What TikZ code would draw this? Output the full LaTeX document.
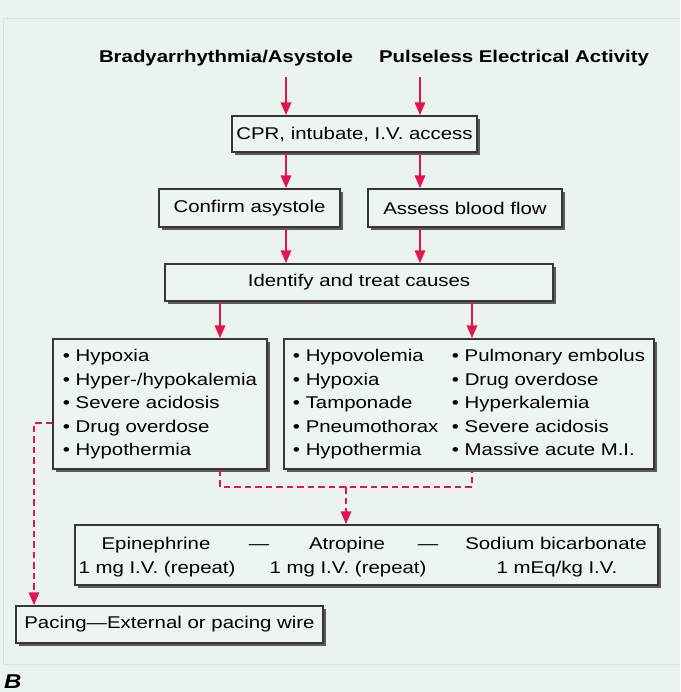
\documentclass[tikz,border=0pt]{standalone}
\usepackage{fontspec}
\setmainfont{Liberation Sans}[FakeStretch=1.2]
\usetikzlibrary{arrows.meta,shadows}

\definecolor{panelbg}{RGB}{234,243,238}
\definecolor{boxfill}{RGB}{237,245,240}
\definecolor{panelline}{RGB}{218,229,222}
\definecolor{boxline}{RGB}{55,55,55}
\definecolor{shadowgray}{RGB}{90,90,90}
\definecolor{flowred}{RGB}{226,22,78}

\tikzset{
  title/.style={font=\fontsize{17}{20}\selectfont\bfseries},
  box/.style={draw=boxline, line width=1.2pt, fill=boxfill, inner sep=0pt,
    general shadow={fill=shadowgray, shadow xshift=2.8pt, shadow yshift=-2.8pt},
    font=\fontsize{17}{23.5}\selectfont},
  drugtext/.style={font=\fontsize{17}{20}\selectfont, inner sep=0pt, anchor=base},
  flow/.style={draw=flowred, line width=2.9pt, -{Triangle[width=10pt,length=13pt]}},
  dline/.style={draw=flowred, line width=2.8pt, dash pattern=on 6.5pt off 4pt},
  dflow/.style={dline, -{Triangle[width=10pt,length=13pt]}},
}

\begin{document}
\begin{tikzpicture}[x=1pt,y=-1pt]
\fill[panelbg] (0,0) rectangle (680,692);
\useasboundingbox (0,0) rectangle (680,692);
\draw[panelline, line width=1pt] (680,19) -- (3,19) -- (3,664) -- (680,664); % panel frame

% headings
\node[title] (brady) at (226,58) {Bradyarrhythmia/Asystole};
\node[title] (pea) at (514,58) {Pulseless Electrical Activity};

% boxes
\node[box, minimum width=245pt, minimum height=36pt] (cpr) at (354.5,134) {CPR, intubate, I.V. access};
\node[box, minimum width=181pt, minimum height=38pt] (confirm) at (249.5,208) {Confirm asystole};
\node[box, minimum width=194pt, minimum height=38pt] (assess) at (465,208) {Assess blood flow};
\node[box, minimum width=388pt, minimum height=37pt] (identify) at (359,282.5) {Identify and treat causes};
\node[box, minimum width=214pt, minimum height=130pt] (asycauses) at (160,404) {%
  \begin{tabular}{@{}l@{}}
  \textbullet\ Hypoxia\\
  \textbullet\ Hyper-/hypokalemia\\
  \textbullet\ Severe acidosis\\
  \textbullet\ Drug overdose\\
  \textbullet\ Hypothermia
  \end{tabular}};
\node[box, minimum width=370pt, minimum height=130pt] (peacauses) at (469,404) {%
  \begin{tabular}{@{}p{159pt}@{}l@{}}
  \textbullet\ Hypovolemia & \textbullet\ Pulmonary embolus\\
  \textbullet\ Hypoxia & \textbullet\ Drug overdose\\
  \textbullet\ Tamponade & \textbullet\ Hyperkalemia\\
  \textbullet\ Pneumothorax & \textbullet\ Severe acidosis\\
  \textbullet\ Hypothermia & \textbullet\ Massive acute M.I.
  \end{tabular}};
\node[box, minimum width=583pt, minimum height=60pt] (drugs) at (366.5,555) {};
\node[box, minimum width=307pt, minimum height=37pt] (pacing) at (169.5,624.5) {Pacing---External or pacing wire};

% drug names and doses
\node[drugtext] (epi) at (156,549) {Epinephrine};
\node[drugtext] (dashone) at (259,549) {---};
\node[drugtext] (atro) at (347,549) {Atropine};
\node[drugtext] (dashtwo) at (428,549) {---};
\node[drugtext] (bicarb) at (556,549) {Sodium bicarbonate};
\node[drugtext] (epidose) at (157,573) {1 mg I.V. (repeat)};
\node[drugtext] (atrodose) at (348,573) {1 mg I.V. (repeat)};
\node[drugtext] (bicarbdose) at (557,573) {1 mEq/kg I.V.};

% solid arrows
\coordinate (colL) at (286,77);
\coordinate (colR) at (420,77);
\coordinate (branchL) at (220,0);
\coordinate (branchR) at (472,0);
\draw[flow] (colL) -- (colL |- cpr.north);
\draw[flow] (colR) -- (colR |- cpr.north);
\draw[flow] (cpr.south -| colL) -- (confirm.north -| colL);
\draw[flow] (cpr.south -| colR) -- (assess.north -| colR);
\draw[flow] (confirm.south -| colL) -- (identify.north -| colL);
\draw[flow] (assess.south -| colR) -- (identify.north -| colR);
\draw[flow] (identify.south -| branchL) -- (asycauses.north -| branchL);
\draw[flow] (identify.south -| branchR) -- (peacauses.north -| branchR);

% dashed links
\coordinate (join) at (346,487);
\coordinate (pacebend) at (34,423);
\draw[dline] (asycauses.south -| branchL) |- (join) -| (peacauses.south -| branchR);
\draw[dflow] (join) -- (drugs.north -| join);
\draw[dflow] (asycauses.west |- pacebend) -- (pacebend) -- (pacing.north -| pacebend);

\node[font=\fontsize{20}{20}\selectfont\bfseries\itshape, anchor=base west, inner sep=0pt] (panel) at (4,688) {B};
\end{tikzpicture}
\end{document}
